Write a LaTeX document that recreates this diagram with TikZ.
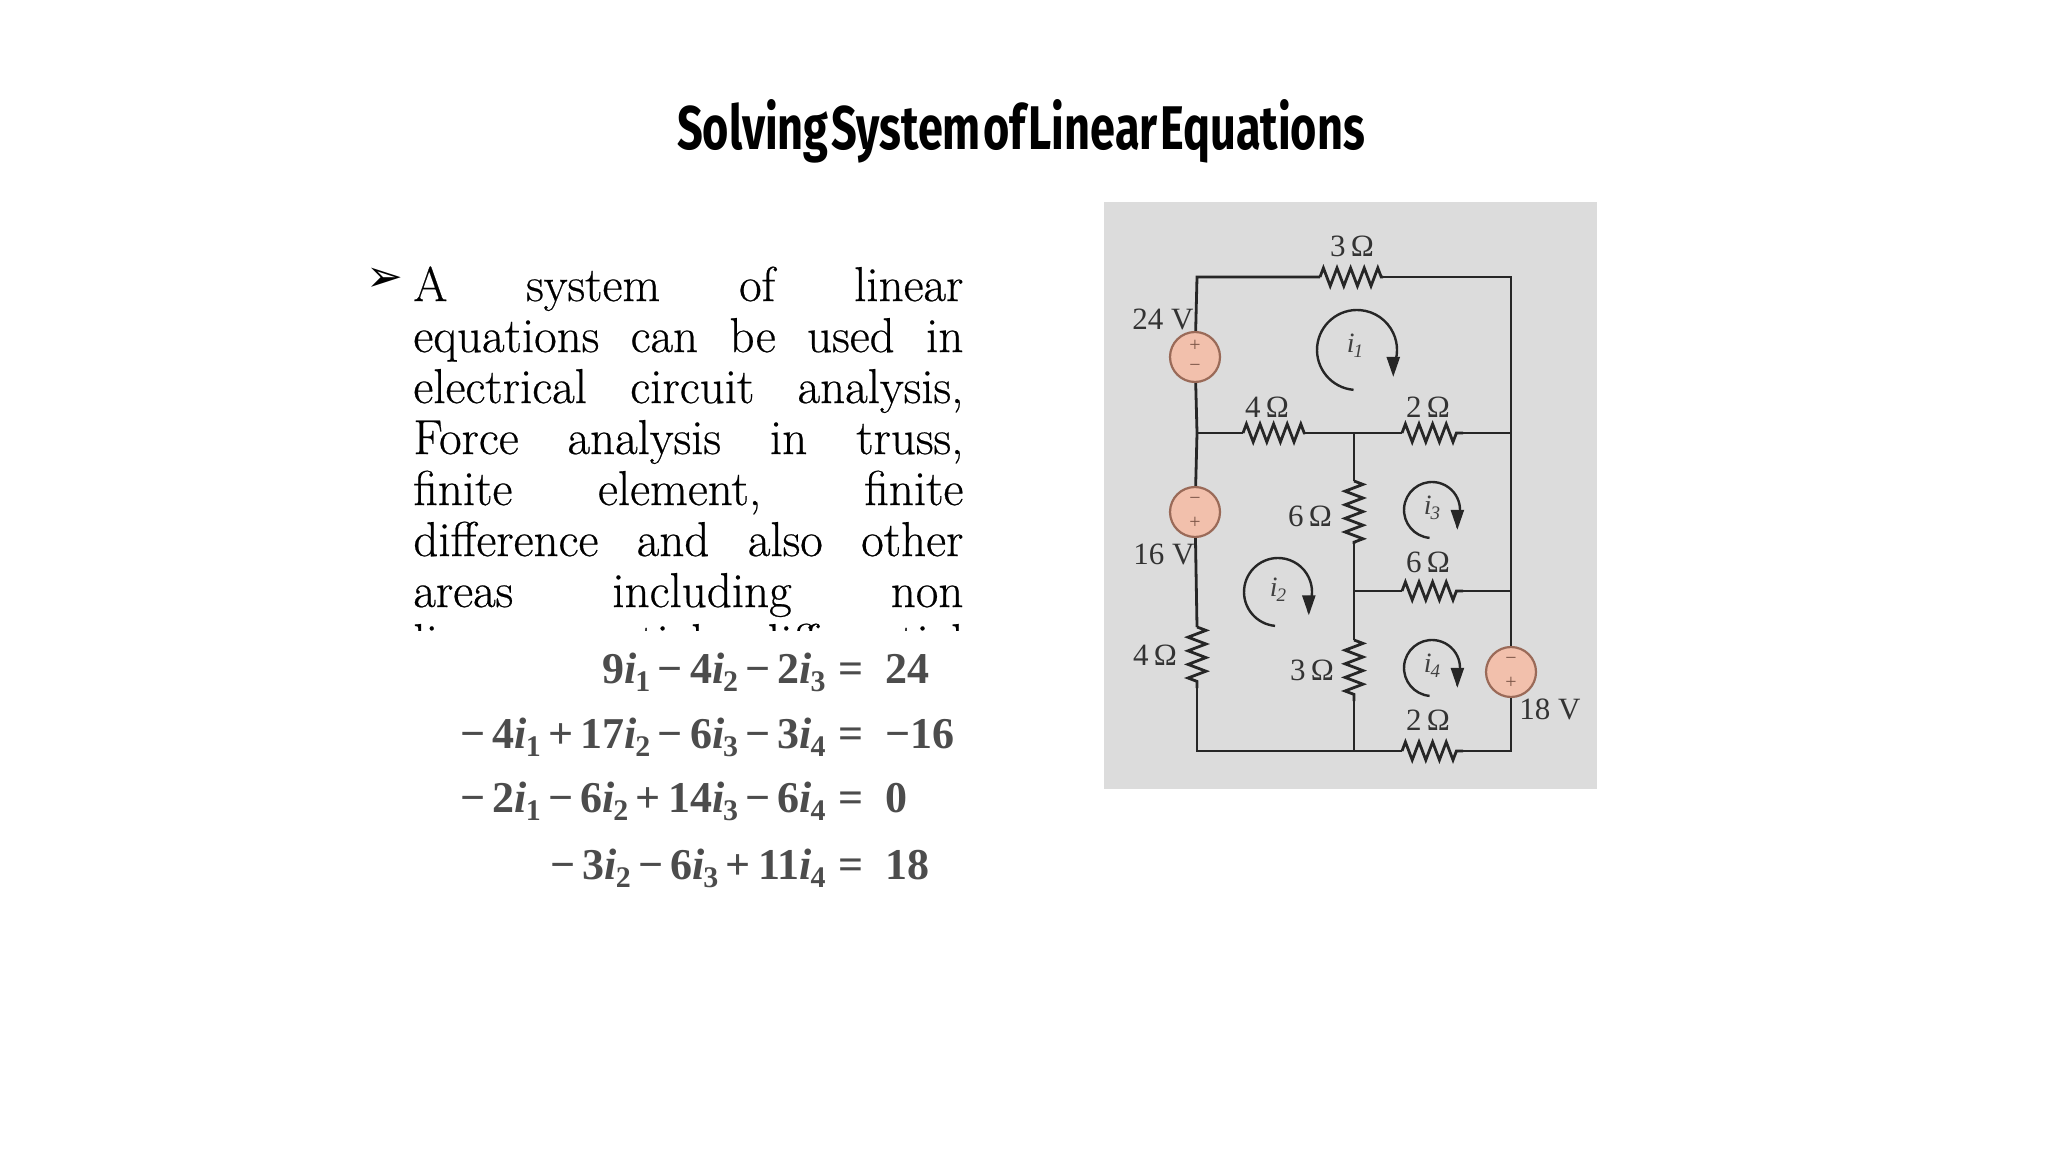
\documentclass[tikz,border=0pt]{standalone}
\usepackage{fontspec}
\usepackage{graphicx}
\usetikzlibrary{decorations.pathmorphing,arrows.meta}
\newfontfamily\tms{Liberation Serif}
\newfontfamily\ttlf{Fira Sans Bold}[WordSpace=0.25]
\newfontfamily\djv{DejaVu Sans}
\newfontfamily\bodyf{Latin Modern Roman}[FakeBold=0.5]
\definecolor{panel}{HTML}{DCDCDC}
\definecolor{srcfill}{HTML}{F2C0AC}
\definecolor{srcdraw}{HTML}{9A6A58}
\newcommand{\ic}[1]{\textit{i}\kern-0.03em\raisebox{-0.4ex}{\scalebox{0.68}{#1}}}
\tikzset{
  wire/.style={line width=1.4pt,black!85},
  res/.style={wire,decorate,decoration={zigzag,segment length=6.8pt,amplitude=4.5pt}},
  src/.style={circle,draw=srcdraw,fill=srcfill,line width=1.1pt,minimum size=25pt,inner sep=0pt},
  sgn/.style={font=\tms\fontsize{10}{10}\selectfont,text=srcdraw!80!black,inner sep=0pt},
  clab/.style={font=\tms\fontsize{15.5}{16}\selectfont,text=black!80,inner sep=1pt},
  mesh/.style={line width=1.2pt,black!85,-{Triangle[length=10pt,width=6.5pt]}},
  mlab/.style={font=\tms\itshape\fontsize{14}{14}\selectfont,text=black!75},
  eq/.style={font=\tms\bfseries\fontsize{22}{22}\selectfont,text=black!70,inner sep=0pt},
}
\begin{document}
\begin{tikzpicture}[x=0.5pt,y=0.5pt]
\useasboundingbox[fill=white] (0,0) rectangle (2048,1152);
% title
\node[anchor=base,inner sep=0pt] (title) at (1021,1002)
  {\resizebox{344pt}{25pt}{\ttlf Solving System of Linear Equations}};
% bullet text
\node[anchor=base west,inner sep=0pt,font=\djv\fontsize{22}{22}\selectfont] (bul) at (366,860) {➢};
\begin{scope}
\clip (380,521) rectangle (1000,905);
\node[anchor=north west,inner sep=0pt,align=left] (para) at (413,886)
 {\parbox{275pt}{\bodyf\fontsize{24.5}{25.5}\selectfont
 \makebox[275pt][s]{A system of linear}\\
 \makebox[275pt][s]{equations can be used in}\\
 \makebox[275pt][s]{electrical circuit analysis,}\\
 \makebox[275pt][s]{Force analysis in truss,}\\
 \makebox[275pt][s]{finite element, finite}\\
 \makebox[275pt][s]{difference and also other}\\
 \makebox[275pt][s]{areas including non}\\
 \makebox[275pt][s]{linear partial differential}}};
\end{scope}
% equations
\node[eq,anchor=base east] (e1l) at (826,469) {9\ic1\,−\,4\ic2\,−\,2\ic3};
\node[eq,anchor=base west] (e1r) at (838,469) {=\ \ 24};
\node[eq,anchor=base east] (e2l) at (826,404) {−\,4\ic1\,+\,17\ic2\,−\,6\ic3\,−\,3\ic4};
\node[eq,anchor=base west] (e2r) at (838,404) {=\ \ −16};
\node[eq,anchor=base east] (e3l) at (826,340) {−\,2\ic1\,−\,6\ic2\,+\,14\ic3\,−\,6\ic4};
\node[eq,anchor=base west] (e3r) at (838,340) {=\ \ 0};
\node[eq,anchor=base east] (e4l) at (826,273) {−\,3\ic2\,−\,6\ic3\,+\,11\ic4};
\node[eq,anchor=base west] (e4r) at (838,273) {=\ \ 18};
% circuit panel
\fill[panel] (1104,363) rectangle (1597,950);
\coordinate (TL) at (1197,875); \coordinate (TR) at (1511,875);
\coordinate (ML) at (1197,719); \coordinate (MM) at (1354,719); \coordinate (MR) at (1511,719);
\coordinate (LM) at (1354,561); \coordinate (LR) at (1511,561);
\coordinate (BL) at (1197,401); \coordinate (BM) at (1354,401); \coordinate (BR) at (1511,401);
\coordinate (r1a) at (1320,875); \coordinate (r1b) at (1383,875);
\coordinate (r2a) at (1243,719); \coordinate (r2b) at (1305,719);
\coordinate (r3a) at (1402,719); \coordinate (r3b) at (1463,719);
\coordinate (r4a) at (1354,671); \coordinate (r4b) at (1354,608);
\coordinate (r5a) at (1402,561); \coordinate (r5b) at (1463,561);
\coordinate (r6a) at (1197,525); \coordinate (r6b) at (1197,464);
\coordinate (r7a) at (1354,512); \coordinate (r7b) at (1354,451);
\coordinate (r8a) at (1402,401); \coordinate (r8b) at (1463,401);
\node[src] (s24) at (1195,795) {};
\node[src] (s16) at (1195,640) {};
\node[src] (s18) at (1511,480) {};
\node[sgn] at ([yshift=5.5pt]s24.center) {+}; \node[sgn] at ([yshift=-5.5pt]s24.center) {−};
\node[sgn] at ([yshift=5.5pt]s16.center) {−}; \node[sgn] at ([yshift=-5.5pt]s16.center) {+};
\node[sgn] at ([yshift=5.5pt]s18.center) {−}; \node[sgn] at ([yshift=-5.5pt]s18.center) {+};
% wires
\draw[wire] (s24) -- (TL) -- (r1a); \draw[wire] (r1b) -- (TR) -- (MR);
\draw[wire] (s24) -- (ML) -- (s16);
\draw[wire] (ML) -- (r2a); \draw[wire] (r2b) -- (MM) -- (r3a); \draw[wire] (r3b) -- (MR);
\draw[wire] (MR) -- (LR) -- (s18); \draw[wire] (s18) -- (BR) -- (r8b);
\draw[wire] (MM) -- (r4a); \draw[wire] (r4b) -- (LM) -- (r7a); \draw[wire] (r7b) -- (BM);
\draw[wire] (LM) -- (r5a); \draw[wire] (r5b) -- (LR);
\draw[wire] (s16) -- (r6a); \draw[wire] (r6b) -- (BL) -- (BM) -- (r8a);
\draw[res] (r1a) -- (r1b); \draw[res] (r2a) -- (r2b); \draw[res] (r3a) -- (r3b);
\draw[res] (r4a) -- (r4b); \draw[res] (r5a) -- (r5b); \draw[res] (r6a) -- (r6b);
\draw[res] (r7a) -- (r7b); \draw[res] (r8a) -- (r8b);
% labels
\node[clab] (l1) at (1352,906) {3\,Ω};
\node[clab] (l2) at (1267,745) {4\,Ω};
\node[clab] (l3) at (1428,745) {2\,Ω};
\node[clab] (l4) at (1310,636) {6\,Ω};
\node[clab] (l5) at (1428,590) {6\,Ω};
\node[clab] (l6) at (1155,497) {4\,Ω};
\node[clab] (l7) at (1312,482) {3\,Ω};
\node[clab] (l8) at (1428,432) {2\,Ω};
\node[clab] (v24) at (1163,833) {24 V};
\node[clab] (v16) at (1164,598) {16 V};
\node[clab] (v18) at (1550,443) {18 V};
% meshes
\coordinate (c1) at (1357,802); \coordinate (c2) at (1278,560);
\coordinate (c3) at (1432,642); \coordinate (c4) at (1432,484);
\draw[mesh] ([shift={(-95:40)}]c1) arc[start angle=-95,end angle=-385,radius=40] -- ++(-90:10);
\draw[mesh] ([shift={(-95:34)}]c2) arc[start angle=-95,end angle=-385,radius=34] -- ++(-90:9);
\draw[mesh] ([shift={(-95:28)}]c3) arc[start angle=-95,end angle=-385,radius=28] -- ++(-90:8);
\draw[mesh] ([shift={(-95:28)}]c4) arc[start angle=-95,end angle=-385,radius=28] -- ++(-90:8);
\node[mlab] (m1) at (1355,806) {\ic1};
\node[mlab] (m2) at (1278,562) {\ic2};
\node[mlab] (m3) at (1432,644) {\ic3};
\node[mlab] (m4) at (1432,486) {\ic4};
\end{tikzpicture}
\end{document}
